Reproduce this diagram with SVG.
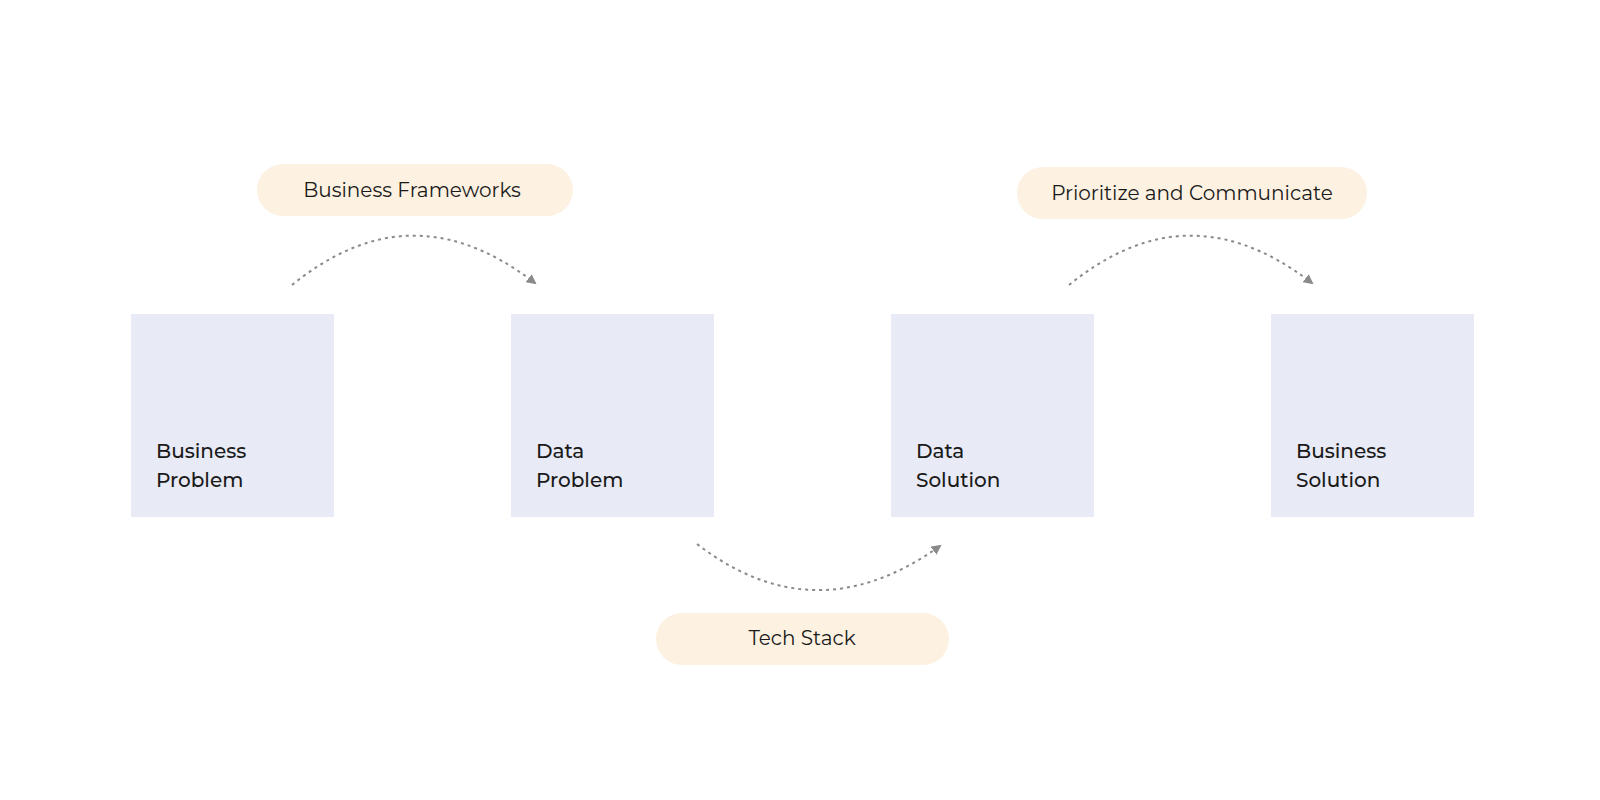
<svg xmlns="http://www.w3.org/2000/svg" width="1600" height="800" viewBox="0 0 1600 800">
<style>
.box{fill:#e8eaf5}
.pill{fill:#fdf1e1}
.nt{font-family:Montserrat,"Noto Sans",sans-serif;font-size:20px;font-weight:500;fill:#1a1a1a}
.lt{font-family:Montserrat,"Noto Sans",sans-serif;font-size:20px;fill:#1a1a1a;text-anchor:middle}
.c{fill:none;stroke:#8a8a8a;stroke-width:2;stroke-dasharray:3 4}
</style>
<defs><marker id="ah" markerWidth="10" markerHeight="10" refX="8" refY="5" orient="auto" markerUnits="userSpaceOnUse" viewBox="0 0 10 10"><path d="M0,0 L10,5 L0,10 z" fill="#8a8a8a"/></marker></defs>
<rect width="1600" height="800" fill="#fff"/>
<g id="n1"><rect class="box" x="131" y="314" width="203" height="203"/><text class="nt" x="156" y="458">Business</text><text class="nt" x="156" y="487">Problem</text></g>
<g id="n2"><rect class="box" x="511" y="314" width="203" height="203"/><text class="nt" x="536" y="458">Data</text><text class="nt" x="536" y="487">Problem</text></g>
<g id="n3"><rect class="box" x="891" y="314" width="203" height="203"/><text class="nt" x="916" y="458">Data</text><text class="nt" x="916" y="487">Solution</text></g>
<g id="n4"><rect class="box" x="1271" y="314" width="203" height="203"/><text class="nt" x="1296" y="458">Business</text><text class="nt" x="1296" y="487">Solution</text></g>
<g id="l1"><rect class="pill" x="257" y="164" width="316" height="52" rx="26"/><text class="lt" x="412" y="197">Business Frameworks</text></g>
<g id="l2"><rect class="pill" x="1017" y="167" width="350" height="52" rx="26"/><text class="lt" x="1192" y="200">Prioritize and Communicate</text></g>
<g id="l3"><rect class="pill" x="656" y="613" width="293" height="52" rx="26"/><text class="lt" x="802" y="645">Tech Stack</text></g>
<g id="connectors">
<path class="c" d="M292,285 C360,230 440,210 535,283" marker-end="url(#ah)"/>
<path class="c" d="M1069,285 C1137,230 1217,210 1312,283" marker-end="url(#ah)"/>
<path class="c" d="M697,544 C770,600 850,610 940,546" marker-end="url(#ah)"/>
</g>
</svg>
